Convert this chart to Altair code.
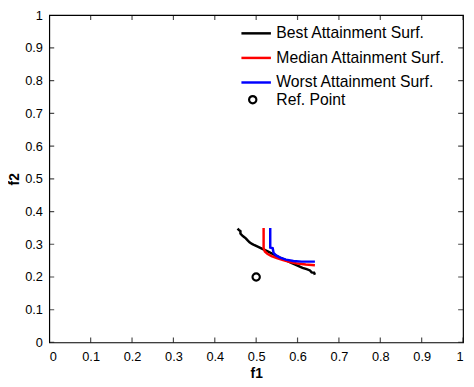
import altair as alt
import pandas as pd

# ---- data ----
series_names = ["Best Attainment Surf.", "Median Attainment Surf.", "Worst Attainment Surf."]
series_colors = ["#000000", "#ff0000", "#0000ff"]
ref_name = "Ref. Point"

best_f1 = [0.455, 0.458, 0.462, 0.462, 0.466, 0.470, 0.475, 0.480, 0.484, 0.490, 0.496, 0.505,
           0.515, 0.528, 0.542, 0.556, 0.570, 0.585, 0.600, 0.612, 0.622, 0.630, 0.634, 0.640, 0.642]
best_f2 = [0.348, 0.344, 0.340, 0.333, 0.327, 0.323, 0.318, 0.311, 0.306, 0.301, 0.297, 0.292,
           0.286, 0.278, 0.269, 0.260, 0.252, 0.243, 0.235, 0.228, 0.224, 0.220, 0.214, 0.213, 0.207]

median_f1 = [0.518, 0.518, 0.521, 0.527, 0.537, 0.550, 0.565, 0.582, 0.600, 0.620, 0.642]
median_f2 = [0.350, 0.288, 0.278, 0.271, 0.264, 0.258, 0.252, 0.246, 0.241, 0.238, 0.236]

worst_f1 = [0.534, 0.534, 0.540, 0.542, 0.548, 0.558, 0.572, 0.590, 0.610, 0.642]
worst_f2 = [0.350, 0.290, 0.288, 0.274, 0.266, 0.259, 0.253, 0.249, 0.247, 0.247]

ref_f1 = [0.5]
ref_f2 = [0.2]

tick_values = [0, 0.1, 0.2, 0.3, 0.4, 0.5, 0.6, 0.7, 0.8, 0.9, 1]

W, H = 421, 333
FONT = "Liberation Sans"

# ---- tables ----
rows = []
for name, xs, ys in zip(series_names, [best_f1, median_f1, worst_f1], [best_f2, median_f2, worst_f2]):
    for i, (a, b) in enumerate(zip(xs, ys)):
        rows.append({"series": name, "f1": a, "f2": b, "order": i})
lines_df = pd.DataFrame(rows)
ref_df = pd.DataFrame({"f1": ref_f1, "f2": ref_f2, "series": [ref_name] * len(ref_f1)})
ticks_df = pd.DataFrame({"v": tick_values})

xscale = alt.Scale(domain=[0, 1], nice=False, zero=False)
yscale = alt.Scale(domain=[0, 1], nice=False, zero=False)

x_axis = alt.Axis(orient="bottom", values=tick_values, format="~g", ticks=False,
                  domain=False, grid=False, labelPadding=8, title="f1", labelOverlap=False,
                  titleFontWeight="bold", titleFontSize=14, titlePadding=4)
y_axis = alt.Axis(orient="left", values=tick_values, format="~g", ticks=False,
                  domain=False, grid=False, labelPadding=7, title="f2", labelOverlap=False,
                  titleFontWeight="bold", titleFontSize=14, titlePadding=3)

# curves (carry the labeled axes)
lines = alt.Chart(lines_df).mark_line(strokeWidth=2.5, clip=True).encode(
    x=alt.X("f1:Q", scale=xscale, axis=x_axis, title="f1"),
    y=alt.Y("f2:Q", scale=yscale, axis=y_axis, title="f2"),
    color=alt.Color("series:N",
                    scale=alt.Scale(domain=series_names, range=series_colors),
                    legend=alt.Legend(orient="none", legendX=194, legendY=2, title=None,
                                      symbolType="stroke", symbolSize=900,
                                      symbolStrokeWidth=2.5, labelFontSize=16,
                                      labelLimit=0, labelOffset=4, rowPadding=0, padding=0)),
    order="order:Q",
)

ref = alt.Chart(ref_df).mark_point(shape="circle", filled=False, size=55, strokeWidth=2.2,
                                   opacity=1).encode(
    x=alt.X("f1:Q", scale=xscale, axis=None),
    y=alt.Y("f2:Q", scale=yscale, axis=None),
    color=alt.Color("series:N",
                    scale=alt.Scale(domain=[ref_name], range=["#000000"]),
                    legend=alt.Legend(orient="none", legendX=199, legendY=78, title=None,
                                      symbolType="circle", symbolSize=55, symbolOpacity=1,
                                      symbolStrokeWidth=2.2, labelFontSize=16,
                                      labelLimit=0, labelOffset=16, padding=0)),
)

# inward ticks on all four edges (clipped so only the inner half shows)
tick_base = alt.Chart(ticks_df)
ticks_bottom = tick_base.mark_tick(orient="vertical", size=10, thickness=1.2, clip=True,
                                   color="#000000").encode(
    x=alt.X("v:Q", scale=xscale, axis=None), y=alt.datum(0))
ticks_top = tick_base.mark_tick(orient="vertical", size=10, thickness=1.2, clip=True,
                                color="#000000").encode(
    x=alt.X("v:Q", scale=xscale, axis=None), y=alt.datum(1))
ticks_left = tick_base.mark_tick(orient="horizontal", size=10, thickness=1.2, clip=True,
                                 color="#000000").encode(
    y=alt.Y("v:Q", scale=yscale, axis=None), x=alt.datum(0))
ticks_right = tick_base.mark_tick(orient="horizontal", size=10, thickness=1.2, clip=True,
                                  color="#000000").encode(
    y=alt.Y("v:Q", scale=yscale, axis=None), x=alt.datum(1))

chart = (
    alt.layer(lines, ref, ticks_bottom, ticks_top, ticks_left, ticks_right)
    .resolve_scale(color="independent")
    .resolve_axis(x="independent", y="independent")
    .properties(
        width=W, height=H,
        autosize=alt.AutoSizeParams(type="none"),
        padding={"left": 42, "top": 4, "right": 3, "bottom": 40},
        background="white",
    )
    .configure_view(stroke="#000000", strokeWidth=1.2)
    .configure_axis(labelFont=FONT, titleFont=FONT, labelFontSize=13, labelColor="#000000",
                    titleColor="#000000")
    .configure_axisTop(labels=False, ticks=False, domain=False, grid=False, titleOpacity=0)
    .configure_axisRight(labels=False, ticks=False, domain=False, grid=False, titleOpacity=0)
    .configure_legend(labelFont=FONT, labelColor="#000000")
)

chart.save("out.html", embed_options={"renderer": "svg", "actions": False})
